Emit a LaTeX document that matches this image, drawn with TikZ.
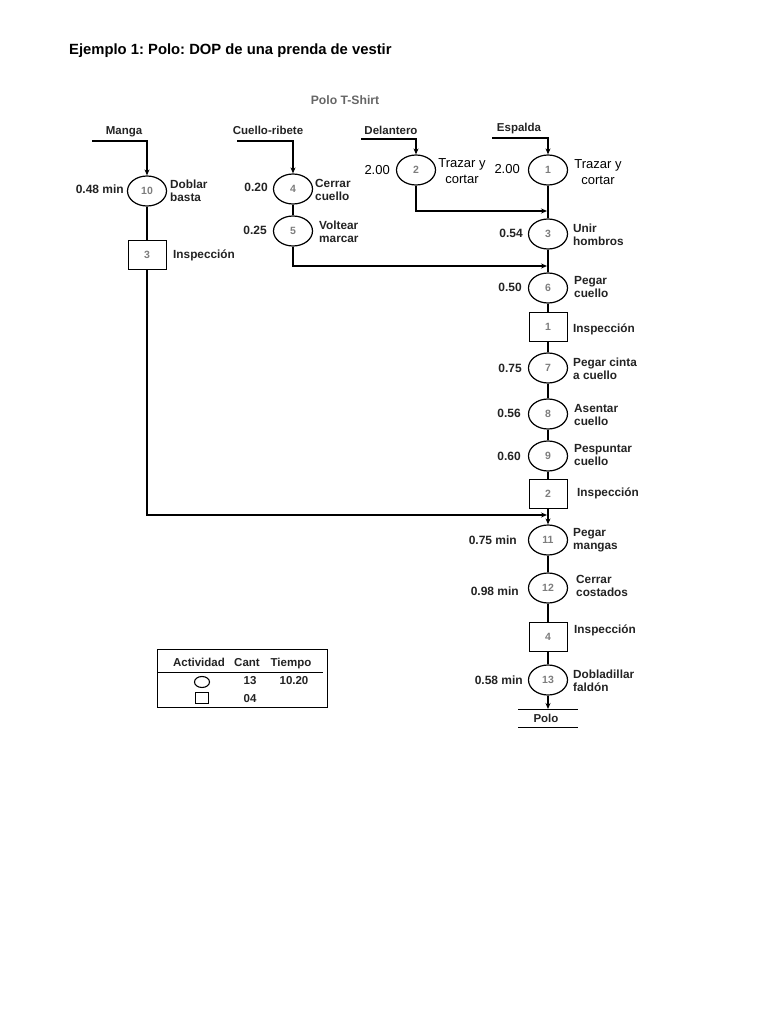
\documentclass[tikz,border=0pt]{standalone}
\usepackage{fontspec}
\setmainfont{Liberation Sans}
\usepackage{tikz}
\usepackage{xcolor}
\usetikzlibrary{shapes.geometric, arrows.meta, positioning, calc}
\frenchspacing
\definecolor{cNum}{RGB}{125,125,125}
\definecolor{cText}{RGB}{35,35,35}
\tikzset{
	oper/.style ={ellipse, draw=black, line width=1.2pt, minimum width=39pt, minimum height=30pt, inner sep=0pt, text=cNum, font=\fontsize{10.5}{12}\selectfont\bfseries},
	insp/.style ={rectangle, draw=black, line width=0.9pt, minimum width=38pt, minimum height=29pt, inner sep=0pt, text=cNum, font=\fontsize{10.5}{12}\selectfont\bfseries},
	desc/.style ={anchor=west, align=left, inner sep=0pt, text=cText, font=\fontsize{11.8}{13.5}\selectfont\bfseries},
	tval/.style ={anchor=east, inner sep=0pt, text=cText, font=\fontsize{12}{14}\selectfont\bfseries},
	big/.style  ={inner sep=0pt, align=center, text=black, font=\fontsize{13}{15.5}\selectfont},
	inlbl/.style={inner sep=0pt, text height=8.5pt, text depth=2.5pt, text=cText, font=\fontsize{11.5}{13}\selectfont\bfseries},
	flow/.style ={line width=1.2pt},
	feed/.style ={line width=1.2pt, -{Stealth[length=6pt, width=5pt]}},
}
\begin{document}
\begin{tikzpicture}[x=1pt, y=-1pt]
\useasboundingbox (0,0) rectangle (768,1024);
% titles
\node[anchor=west, inner sep=0pt, font=\fontsize{14.8}{16}\selectfont\bfseries] (title) at (69,51) {Ejemplo 1: Polo: DOP de una prenda de vestir};
\node[inner sep=0pt, text=black!60, font=\fontsize{12.2}{14}\selectfont\bfseries] (sub) at (345,100) {Polo T-Shirt};

% material inputs
\node[inlbl] (lManga) at (124,132) {Manga};
\node[inlbl] (lCuello) at (268,132) {Cuello-ribete};
\node[inlbl] (lDel) at (391,132) {Delantero};
\node[inlbl] (lEsp) at (519,129) {Espalda};
\coordinate (inManga) at (92,141);
\coordinate (inCuello) at (237,141);
\coordinate (inDel) at (361,139);
\coordinate (inEsp) at (492,138);

% sleeve branch
\node[oper] (o10) at (147,191) {10};
\node[tval] (t10) at (124,189) {0.48 min};
\node[desc] (d10) at (170,191) {Doblar\\basta};
\node[insp] (s3) at (147,255) {3};
\node[desc] (e3) at (173,255) {Inspección};

% collar branch
\node[oper] (o4) at (293,189) {4};
\node[tval] (t4) at (268,187) {0.20};
\node[desc] (d4) at (315,190) {Cerrar\\cuello};
\node[oper] (o5) at (293,231) {5};
\node[tval] (t5) at (267,230) {0.25};
\node[desc] (d5) at (319,232) {Voltear\\marcar};

% front
\node[oper] (o2) at (416,170) {2};
\node[big, anchor=east] (t2) at (390,170) {2.00};
\node[big] (d2) at (462,171) {Trazar y\\cortar};

% back and main line
\node[oper] (o1) at (548,170) {1};
\node[big, anchor=east] (t1) at (520,169) {2.00};
\node[big] (d1) at (598,172) {Trazar y\\cortar};
\node[oper] (o3) at (548,234) {3};
\node[tval] (t3) at (523,233) {0.54};
\node[desc] (d3) at (573,235) {Unir\\hombros};
\node[oper] (o6) at (548,288) {6};
\node[tval] (t6) at (522,287) {0.50};
\node[desc] (d6) at (574,287) {Pegar\\cuello};
\node[insp] (s1) at (548,327) {1};
\node[desc] (e1) at (573,329) {Inspección};
\node[oper] (o7) at (548,368) {7};
\node[tval] (t7) at (522,368) {0.75};
\node[desc] (d7) at (573,369) {Pegar cinta\\a cuello};
\node[oper] (o8) at (548,414) {8};
\node[tval] (t8) at (521,413) {0.56};
\node[desc] (d8) at (574,415) {Asentar\\cuello};
\node[oper] (o9) at (548,456) {9};
\node[tval] (t9) at (521,456) {0.60};
\node[desc] (d9) at (574,455) {Pespuntar\\cuello};
\node[insp] (s2) at (548,494) {2};
\node[desc] (e2) at (577,493) {Inspección};
\node[oper] (o11) at (548,540) {11};
\node[tval] (t11) at (517,540) {0.75 min};
\node[desc] (d11) at (573,540) {Pegar\\mangas};
\node[oper] (o12) at (548,588) {12};
\node[tval] (t12) at (519,591) {0.98 min};
\node[desc] (d12) at (576,586) {Cerrar\\costados};
\node[insp] (s4) at (548,637) {4};
\node[desc] (e4) at (574,630) {Inspección};
\node[oper] (o13) at (548,680) {13};
\node[tval] (t13) at (523,680) {0.58 min};
\node[desc] (d13) at (573,681) {Dobladillar\\faldón};
\node[inlbl] (prod) at (546,719) {Polo};
\coordinate (pOut) at (548,709);
\coordinate (pL1) at (518,709);
\coordinate (pR1) at (578,709);
\coordinate (pL2) at (518,727);
\coordinate (pR2) at (578,727);

% joins on the main line
\coordinate (m1) at (547,211);
\coordinate (m2) at (547,266);
\coordinate (m3) at (547,515);

% connectors
\draw[feed] (inManga) -| (o10);
\draw[feed] (inCuello) -| (o4);
\draw[feed] (inDel) -| (o2);
\draw[feed] (inEsp) -| (o1);
\draw[flow] (o10) -- (s3);
\draw[flow] (o4) -- (o5);
\draw[feed] (o2.south) |- (m1);
\draw[feed] (o5.south) |- (m2);
\draw[feed] (s3.south) |- (m3);
\draw[flow] (o1) -- (o3);
\draw[flow] (o3) -- (o6);
\draw[flow] (o6) -- (s1);
\draw[flow] (s1) -- (o7);
\draw[flow] (o7) -- (o8);
\draw[flow] (o8) -- (o9);
\draw[flow] (o9) -- (s2);
\draw[feed] (s2) -- (o11);
\draw[flow] (o11) -- (o12);
\draw[flow] (o12) -- (s4);
\draw[flow] (s4) -- (o13);
\draw[feed] (o13) -- (pOut);
\draw[line width=1pt] (pL1) -- (pR1);
\draw[line width=0.8pt] (pL2) -- (pR2);

% summary table
\draw[line width=0.8pt] (157,649) rectangle (327,707);
\node[inlbl] (hAct) at (199,663) {Actividad};
\node[inlbl] (hCant) at (247,663) {Cant};
\node[inlbl] (hTie) at (291,663) {Tiempo};
\draw[line width=1pt] (157,672) -- (323,672);
\node[ellipse, draw=black, line width=1.1pt, minimum width=15pt, minimum height=11pt, inner sep=0pt] (kOp) at (202,682) {};
\node[inlbl] (nOp) at (250,681) {13};
\node[inlbl] (tOp) at (294,681) {10.20};
\node[rectangle, draw=black, line width=1.1pt, minimum width=13pt, minimum height=11pt, inner sep=0pt] (kIn) at (202,698) {};
\node[inlbl] (nIn) at (250,699) {04};
\end{tikzpicture}
\end{document}
